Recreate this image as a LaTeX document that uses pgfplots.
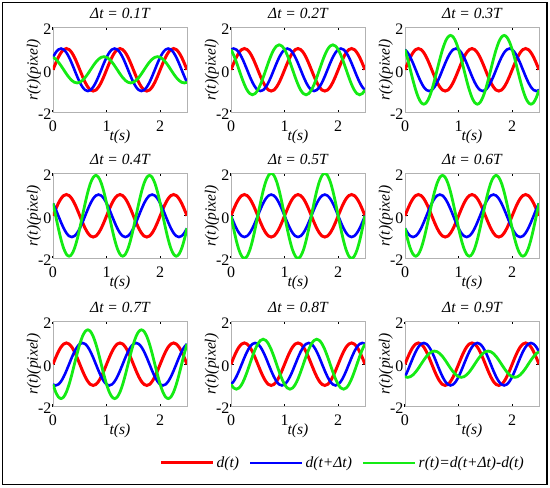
\documentclass[border=0pt]{standalone}
\usepackage{pgfplots}
\pgfplotsset{compat=1.18}
\usepackage{pgfplotstable}
\usepackage{fontspec}
\setmainfont{Liberation Serif}
\definecolor{cred}{RGB}{255,0,0}
\definecolor{cblue}{RGB}{0,0,255}
\definecolor{cgreen}{RGB}{20,235,20}

% t, d(t), d(t+k*0.1T) for k=1..9, r_k = d(t+k*0.1T)-d(t)
\pgfplotstableread{
t d b1 b2 b3 b4 b5 b6 b7 b8 b9 r1 r2 r3 r4 r5 r6 r7 r8 r9
0.00 0 0.588 0.951 0.951 0.588 0 -0.588 -0.951 -0.951 -0.588 0.588 0.951 0.951 0.588 0 -0.588 -0.951 -0.951 -0.588
0.05 0.309 0.809 1 0.809 0.309 -0.309 -0.809 -1 -0.809 -0.309 0.5 0.691 0.5 0 -0.618 -1.118 -1.309 -1.118 -0.618
0.10 0.588 0.951 0.951 0.588 0 -0.588 -0.951 -0.951 -0.588 0 0.363 0.363 0 -0.588 -1.176 -1.539 -1.539 -1.176 -0.588
0.15 0.809 1 0.809 0.309 -0.309 -0.809 -1 -0.809 -0.309 0.309 0.191 0 -0.5 -1.118 -1.618 -1.809 -1.618 -1.118 -0.5
0.20 0.951 0.951 0.588 0 -0.588 -0.951 -0.951 -0.588 0 0.588 0 -0.363 -0.951 -1.539 -1.902 -1.902 -1.539 -0.951 -0.363
0.25 1 0.809 0.309 -0.309 -0.809 -1 -0.809 -0.309 0.309 0.809 -0.191 -0.691 -1.309 -1.809 -2 -1.809 -1.309 -0.691 -0.191
0.30 0.951 0.588 0 -0.588 -0.951 -0.951 -0.588 0 0.588 0.951 -0.363 -0.951 -1.539 -1.902 -1.902 -1.539 -0.951 -0.363 0
0.35 0.809 0.309 -0.309 -0.809 -1 -0.809 -0.309 0.309 0.809 1 -0.5 -1.118 -1.618 -1.809 -1.618 -1.118 -0.5 0 0.191
0.40 0.588 0 -0.588 -0.951 -0.951 -0.588 0 0.588 0.951 0.951 -0.588 -1.176 -1.539 -1.539 -1.176 -0.588 0 0.363 0.363
0.45 0.309 -0.309 -0.809 -1 -0.809 -0.309 0.309 0.809 1 0.809 -0.618 -1.118 -1.309 -1.118 -0.618 0 0.5 0.691 0.5
0.50 0 -0.588 -0.951 -0.951 -0.588 0 0.588 0.951 0.951 0.588 -0.588 -0.951 -0.951 -0.588 0 0.588 0.951 0.951 0.588
0.55 -0.309 -0.809 -1 -0.809 -0.309 0.309 0.809 1 0.809 0.309 -0.5 -0.691 -0.5 0 0.618 1.118 1.309 1.118 0.618
0.60 -0.588 -0.951 -0.951 -0.588 0 0.588 0.951 0.951 0.588 0 -0.363 -0.363 0 0.588 1.176 1.539 1.539 1.176 0.588
0.65 -0.809 -1 -0.809 -0.309 0.309 0.809 1 0.809 0.309 -0.309 -0.191 0 0.5 1.118 1.618 1.809 1.618 1.118 0.5
0.70 -0.951 -0.951 -0.588 0 0.588 0.951 0.951 0.588 0 -0.588 0 0.363 0.951 1.539 1.902 1.902 1.539 0.951 0.363
0.75 -1 -0.809 -0.309 0.309 0.809 1 0.809 0.309 -0.309 -0.809 0.191 0.691 1.309 1.809 2 1.809 1.309 0.691 0.191
0.80 -0.951 -0.588 0 0.588 0.951 0.951 0.588 0 -0.588 -0.951 0.363 0.951 1.539 1.902 1.902 1.539 0.951 0.363 0
0.85 -0.809 -0.309 0.309 0.809 1 0.809 0.309 -0.309 -0.809 -1 0.5 1.118 1.618 1.809 1.618 1.118 0.5 0 -0.191
0.90 -0.588 0 0.588 0.951 0.951 0.588 0 -0.588 -0.951 -0.951 0.588 1.176 1.539 1.539 1.176 0.588 0 -0.363 -0.363
0.95 -0.309 0.309 0.809 1 0.809 0.309 -0.309 -0.809 -1 -0.809 0.618 1.118 1.309 1.118 0.618 0 -0.5 -0.691 -0.5
1.00 0 0.588 0.951 0.951 0.588 0 -0.588 -0.951 -0.951 -0.588 0.588 0.951 0.951 0.588 0 -0.588 -0.951 -0.951 -0.588
1.05 0.309 0.809 1 0.809 0.309 -0.309 -0.809 -1 -0.809 -0.309 0.5 0.691 0.5 0 -0.618 -1.118 -1.309 -1.118 -0.618
1.10 0.588 0.951 0.951 0.588 0 -0.588 -0.951 -0.951 -0.588 0 0.363 0.363 0 -0.588 -1.176 -1.539 -1.539 -1.176 -0.588
1.15 0.809 1 0.809 0.309 -0.309 -0.809 -1 -0.809 -0.309 0.309 0.191 0 -0.5 -1.118 -1.618 -1.809 -1.618 -1.118 -0.5
1.20 0.951 0.951 0.588 0 -0.588 -0.951 -0.951 -0.588 0 0.588 0 -0.363 -0.951 -1.539 -1.902 -1.902 -1.539 -0.951 -0.363
1.25 1 0.809 0.309 -0.309 -0.809 -1 -0.809 -0.309 0.309 0.809 -0.191 -0.691 -1.309 -1.809 -2 -1.809 -1.309 -0.691 -0.191
1.30 0.951 0.588 0 -0.588 -0.951 -0.951 -0.588 0 0.588 0.951 -0.363 -0.951 -1.539 -1.902 -1.902 -1.539 -0.951 -0.363 0
1.35 0.809 0.309 -0.309 -0.809 -1 -0.809 -0.309 0.309 0.809 1 -0.5 -1.118 -1.618 -1.809 -1.618 -1.118 -0.5 0 0.191
1.40 0.588 0 -0.588 -0.951 -0.951 -0.588 0 0.588 0.951 0.951 -0.588 -1.176 -1.539 -1.539 -1.176 -0.588 0 0.363 0.363
1.45 0.309 -0.309 -0.809 -1 -0.809 -0.309 0.309 0.809 1 0.809 -0.618 -1.118 -1.309 -1.118 -0.618 0 0.5 0.691 0.5
1.50 0 -0.588 -0.951 -0.951 -0.588 0 0.588 0.951 0.951 0.588 -0.588 -0.951 -0.951 -0.588 0 0.588 0.951 0.951 0.588
1.55 -0.309 -0.809 -1 -0.809 -0.309 0.309 0.809 1 0.809 0.309 -0.5 -0.691 -0.5 0 0.618 1.118 1.309 1.118 0.618
1.60 -0.588 -0.951 -0.951 -0.588 0 0.588 0.951 0.951 0.588 0 -0.363 -0.363 0 0.588 1.176 1.539 1.539 1.176 0.588
1.65 -0.809 -1 -0.809 -0.309 0.309 0.809 1 0.809 0.309 -0.309 -0.191 0 0.5 1.118 1.618 1.809 1.618 1.118 0.5
1.70 -0.951 -0.951 -0.588 0 0.588 0.951 0.951 0.588 0 -0.588 0 0.363 0.951 1.539 1.902 1.902 1.539 0.951 0.363
1.75 -1 -0.809 -0.309 0.309 0.809 1 0.809 0.309 -0.309 -0.809 0.191 0.691 1.309 1.809 2 1.809 1.309 0.691 0.191
1.80 -0.951 -0.588 0 0.588 0.951 0.951 0.588 0 -0.588 -0.951 0.363 0.951 1.539 1.902 1.902 1.539 0.951 0.363 0
1.85 -0.809 -0.309 0.309 0.809 1 0.809 0.309 -0.309 -0.809 -1 0.5 1.118 1.618 1.809 1.618 1.118 0.5 0 -0.191
1.90 -0.588 0 0.588 0.951 0.951 0.588 0 -0.588 -0.951 -0.951 0.588 1.176 1.539 1.539 1.176 0.588 0 -0.363 -0.363
1.95 -0.309 0.309 0.809 1 0.809 0.309 -0.309 -0.809 -1 -0.809 0.618 1.118 1.309 1.118 0.618 0 -0.5 -0.691 -0.5
2.00 0 0.588 0.951 0.951 0.588 0 -0.588 -0.951 -0.951 -0.588 0.588 0.951 0.951 0.588 0 -0.588 -0.951 -0.951 -0.588
2.05 0.309 0.809 1 0.809 0.309 -0.309 -0.809 -1 -0.809 -0.309 0.5 0.691 0.5 0 -0.618 -1.118 -1.309 -1.118 -0.618
2.10 0.588 0.951 0.951 0.588 0 -0.588 -0.951 -0.951 -0.588 0 0.363 0.363 0 -0.588 -1.176 -1.539 -1.539 -1.176 -0.588
2.15 0.809 1 0.809 0.309 -0.309 -0.809 -1 -0.809 -0.309 0.309 0.191 0 -0.5 -1.118 -1.618 -1.809 -1.618 -1.118 -0.5
2.20 0.951 0.951 0.588 0 -0.588 -0.951 -0.951 -0.588 0 0.588 0 -0.363 -0.951 -1.539 -1.902 -1.902 -1.539 -0.951 -0.363
2.25 1 0.809 0.309 -0.309 -0.809 -1 -0.809 -0.309 0.309 0.809 -0.191 -0.691 -1.309 -1.809 -2 -1.809 -1.309 -0.691 -0.191
2.30 0.951 0.588 0 -0.588 -0.951 -0.951 -0.588 0 0.588 0.951 -0.363 -0.951 -1.539 -1.902 -1.902 -1.539 -0.951 -0.363 0
2.35 0.809 0.309 -0.309 -0.809 -1 -0.809 -0.309 0.309 0.809 1 -0.5 -1.118 -1.618 -1.809 -1.618 -1.118 -0.5 0 0.191
2.40 0.588 0 -0.588 -0.951 -0.951 -0.588 0 0.588 0.951 0.951 -0.588 -1.176 -1.539 -1.539 -1.176 -0.588 0 0.363 0.363
2.45 0.309 -0.309 -0.809 -1 -0.809 -0.309 0.309 0.809 1 0.809 -0.618 -1.118 -1.309 -1.118 -0.618 0 0.5 0.691 0.5
2.50 0 -0.588 -0.951 -0.951 -0.588 0 0.588 0.951 0.951 0.588 -0.588 -0.951 -0.951 -0.588 0 0.588 0.951 0.951 0.588
}\data

\pgfplotsset{
  sub/.style={
    anchor=south west,
    scale only axis,
    width=134pt, height=85pt,
    xmin=0, xmax=2.5, ymin=-2, ymax=2,
    xtick={0,1,2}, ytick={-2,0,2},
    tick align=inside,
    xtick pos=both, ytick pos=both,
    major tick length=2.5pt,
    tick style={black, line width=1pt},
    axis line style={draw=black!30, line width=0.6pt},
    font=\fontsize{16}{19}\selectfont,
    /pgf/number format/assume math mode=true,
    xticklabel style={yshift=-5pt},
    yticklabel style={xshift=2pt, yshift=-2pt},
    title style={at={(axis description cs:0.5,1)}, anchor=south, inner sep=0pt, yshift=2.5pt, font=\fontsize{15.5}{18}\selectfont\itshape},
    every axis x label/.style={at={(axis description cs:0.5,0)}, anchor=north, inner sep=0pt, yshift=-17pt, font=\fontsize{15.5}{18}\selectfont\itshape},
    every axis y label/.style={at={(axis description cs:0,0.5)}, rotate=90, anchor=center, yshift=19pt, font=\fontsize{15.5}{18}\selectfont\itshape},
    xlabel={t(s)},
    ylabel={r(t)(pixel)},
    every axis plot/.append style={no marks, smooth},
  },
}

\newcommand{\sub}[3]{%
  \begin{axis}[sub, at={(#1,#2)}, title={Δt = 0.#3T}]
    \addplot[cred, line width=3pt] table[x=t, y=d]{\data};
    \addplot[cblue, line width=2.6pt] table[x=t, y=b#3]{\data};
    \addplot[cgreen, line width=2.8pt] table[x=t, y=r#3]{\data};
  \end{axis}}

\begin{document}
\begin{tikzpicture}[x=1pt,y=1pt]
\useasboundingbox (0,0) rectangle (550,488);
\draw[black, line width=1.8pt] (2.5,3.5) rectangle (547,485.5);

\sub{53pt}{375.7pt}{1}
\sub{231pt}{375.7pt}{2}
\sub{405pt}{375.7pt}{3}
\sub{53pt}{229.7pt}{4}
\sub{231pt}{229.7pt}{5}
\sub{405pt}{229.7pt}{6}
\sub{53pt}{81.3pt}{7}
\sub{231pt}{81.3pt}{8}

\begin{axis}[sub, at={(405pt,81.3pt)}, title={Δt = 0.9T},
  legend columns=3,
  legend style={at={(axis description cs:-0.465,-0.662)}, anchor=center, draw=none, fill=none,
    font=\fontsize{15.5}{18}\selectfont\itshape,
    /tikz/every even column/.append style={column sep=8pt}},
  legend image code/.code={\draw[#1] (0pt,0pt) -- (52pt,0pt);},
]
  \addplot[cred, line width=3pt] table[x=t, y=d]{\data};
  \addlegendentry{d(t)}
  \addplot[cblue, line width=2.6pt] table[x=t, y=b9]{\data};
  \addlegendentry{d(t+Δt)}
  \addplot[cgreen, line width=2.8pt] table[x=t, y=r9]{\data};
  \addlegendentry{r(t)=d(t+Δt)-d(t)}
\end{axis}
\end{tikzpicture}
\end{document}
